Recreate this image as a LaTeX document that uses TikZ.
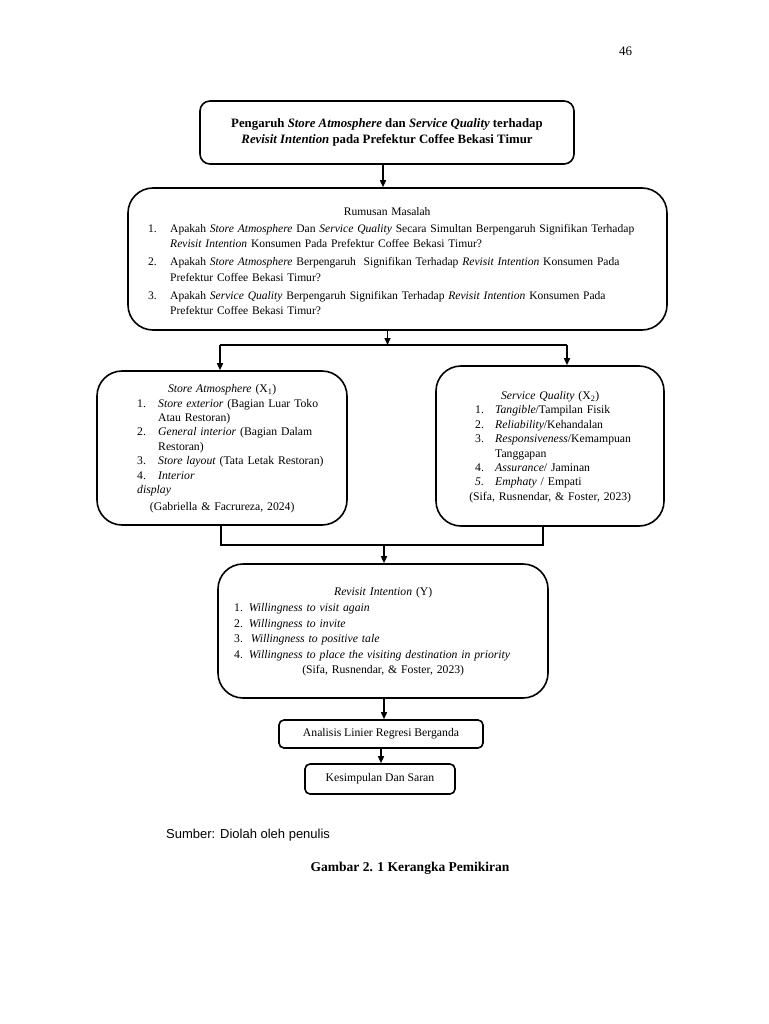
\documentclass[tikz,border=0pt]{standalone}
\usepackage{fontspec}
\setmainfont{Liberation Serif}
\newfontfamily\arialf{Liberation Sans}
\usetikzlibrary{arrows.meta}
\begin{document}
\begin{tikzpicture}[x=1pt,y=-1pt,
  box/.style={draw, line width=1.6pt, inner sep=0pt},
  ln/.style={line width=1.5pt},
  arr/.style={line width=1.5pt, -{Triangle[length=7pt,width=6pt]}},
  txt/.style={inner sep=0pt, align=left, anchor=west, font=\fontsize{11.7}{14.4}\selectfont}]
\fill[white] (0,0) rectangle (768,1024);
\useasboundingbox (0,0) rectangle (768,1024);

\node[inner sep=0pt, anchor=base west, font=\fontsize{13}{15}\selectfont] (pg) at (619,56) {46};

% boxes
\node[box, rounded corners=10pt, minimum width=374pt, minimum height=63pt,
  align=center, font=\bfseries\fontsize{12.8}{16}\selectfont] (title) at (387,132.5)
  {Pengaruh \textit{Store Atmosphere} dan \textit{Service Quality} terhadap\\
   \textit{Revisit Intention} pada Prefektur Coffee Bekasi Timur};

\node[box, rounded corners=25pt, minimum width=539pt, minimum height=142pt] (rum) at (397.5,259) {};
\node[txt, text width=520pt, font=\fontsize{11.55}{15.2}\selectfont] (rumt) at (148,261) {%
\makebox[478pt]{Rumusan Masalah}\\[2pt]
\makebox[22pt][l]{1.}Apakah \textit{Store Atmosphere} Dan \textit{Service Quality} Secara Simultan Berpengaruh Signifikan Terhadap\\
\hspace*{22pt}\textit{Revisit Intention} Konsumen Pada Prefektur Coffee Bekasi Timur?\\[3pt]
\makebox[22pt][l]{2.}Apakah \textit{Store Atmosphere} Berpengaruh\ \ Signifikan Terhadap \textit{Revisit Intention} Konsumen Pada\\
\hspace*{22pt}Prefektur Coffee Bekasi Timur?\\[3pt]
\makebox[22pt][l]{3.}Apakah \textit{Service Quality} Berpengaruh Signifikan Terhadap \textit{Revisit Intention} Konsumen Pada\\
\hspace*{22pt}Prefektur Coffee Bekasi Timur?};

\node[box, rounded corners=25pt, minimum width=250pt, minimum height=154pt] (sa) at (222,448) {};
\node[txt, text width=200pt] (sat) at (137,449) {%
\makebox[170pt]{\textit{Store Atmosphere} (X\textsubscript{1})}\\
\makebox[21pt][l]{1.}\textit{Store exterior} (Bagian Luar Toko\\
\hspace*{21pt}Atau Restoran)\\
\makebox[21pt][l]{2.}\textit{General interior} (Bagian Dalam\\
\hspace*{21pt}Restoran)\\
\makebox[21pt][l]{3.}\textit{Store layout} (Tata Letak Restoran)\\
\makebox[21pt][l]{4.}\textit{Interior}\\
\textit{display}\\[3pt]
\makebox[170pt]{(Gabriella \& Facrureza, 2024)}};

\node[box, rounded corners=25pt, minimum width=228pt, minimum height=160pt] (sq) at (550,446) {};
\node[txt, text width=200pt] (sqt) at (475,447) {%
\makebox[150pt]{\textit{Service Quality} (X\textsubscript{2})}\\
\makebox[20pt][l]{1.}\textit{Tangible}/Tampilan Fisik\\
\makebox[20pt][l]{2.}\textit{Reliability}/Kehandalan\\
\makebox[20pt][l]{3.}\textit{Responsiveness}/Kemampuan\\
\hspace*{20pt}Tanggapan\\
\makebox[20pt][l]{4.}\textit{Assurance}/ Jaminan\\
\makebox[20pt][l]{\textit{5.}}\textit{Emphaty} / Empati\\
\makebox[150pt]{(Sifa, Rusnendar, \& Foster, 2023)}};

\node[box, rounded corners=25pt, minimum width=330pt, minimum height=134pt] (ri) at (383,631) {};
\node[txt, text width=330pt, font=\fontsize{11.7}{15.6}\selectfont] (rit) at (234,632) {%
\makebox[298pt]{\textit{Revisit Intention} (Y)}\\
1. \textit{Willingness to visit again}\\
2. \textit{Willingness to invite}\\
3.\ \ \textit{Willingness to positive tale}\\
4. \textit{Willingness to place the visiting destination in priority}\\
\makebox[298pt]{(Sifa, Rusnendar, \& Foster, 2023)}};

\node[box, rounded corners=5pt, minimum width=204pt, minimum height=28pt,
  font=\fontsize{11.7}{14}\selectfont] (an) at (381,734) {Analisis Linier Regresi Berganda};
\node[box, rounded corners=5pt, minimum width=150pt, minimum height=30pt,
  font=\fontsize{11.7}{14}\selectfont] (ks) at (380,779) {Kesimpulan Dan Saran};

% connectors
\draw[arr] (title.south) ++(-4,0) coordinate (t1) -- (t1 |- rum.north);
\coordinate (busL) at (220,345);
\coordinate (busR) at (567,345);
\draw[arr] (rum.south) ++(-10,0) coordinate (r1) -- (r1 |- busL);
\draw[ln] (busL) -- (busR);
\draw[arr] (busL) -- (busL |- sa.north);
\draw[arr] (busR) -- (busR |- sq.north);

\coordinate (joinL) at (221,545);
\coordinate (joinR) at (543,545);
\coordinate (joinM) at (384,545);
\draw[ln] (joinL |- sa.south) -- (joinL) -- (joinR) -- (joinR |- sq.south);
\draw[arr] (joinM) -- (joinM |- ri.north);
\draw[arr] (ri.south) ++(1,0) coordinate (v1) -- (v1 |- an.north);
\draw[arr] (an.south) -- (an.south |- ks.north);

\node[inner sep=0pt, anchor=base west, font=\arialf\fontsize{13}{15}\selectfont] (src) at (166,838) {Sumber: Diolah oleh penulis};
\node[inner sep=0pt, anchor=base, font=\bfseries\fontsize{13.5}{16}\selectfont] (cap) at (410,871) {Gambar 2. 1 Kerangka Pemikiran};
\end{tikzpicture}
\end{document}
